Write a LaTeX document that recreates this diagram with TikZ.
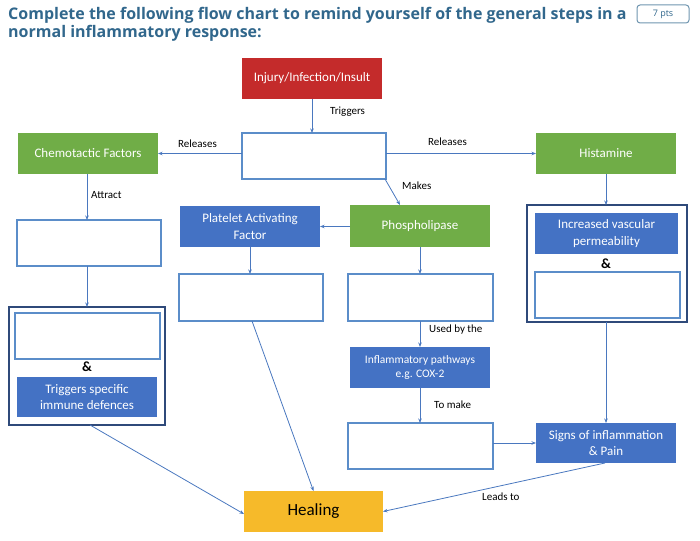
\documentclass[tikz,border=0pt]{standalone}
\usepackage{fontspec}
\setmainfont{Carlito}
\newfontfamily\titlefont{Open Sans}
\usetikzlibrary{arrows.meta}
\definecolor{cred}{HTML}{C42B2B}
\definecolor{cgreen}{HTML}{70AD47}
\definecolor{cblue}{HTML}{4472C4}
\definecolor{corange}{HTML}{F6BA2A}
\definecolor{cline}{HTML}{4A78BF}
\definecolor{cempty}{HTML}{5B8DC9}
\definecolor{cnavy}{HTML}{2F4A7A}
\definecolor{ctitle}{HTML}{31678C}
\begin{document}
\begin{tikzpicture}[x=1pt,y=-1pt,
  box/.style={inner sep=0pt,outer sep=0pt,align=center,font=\fontsize{13}{16.5}\selectfont},
  redbox/.style={box,fill=cred,text=white},
  greenbox/.style={box,fill=cgreen,text=white},
  bluebox/.style={box,fill=cblue,text=white},
  emptybox/.style={box,draw=cempty,line width=1.2pt,fill=white},
  groupbox/.style={box,draw=cnavy,line width=2.2pt},
  conn/.style={draw=cline,line width=0.8pt,-{Stealth[length=4.5pt,width=3.5pt]}},
  lbl/.style={anchor=west,inner sep=0pt,font=\fontsize{11}{12}\selectfont}]
\useasboundingbox (0,0) rectangle (700,540);
% title
\node[anchor=base west,inner sep=0pt,text=ctitle,font=\titlefont\bfseries\fontsize{16}{18}\selectfont] (t1) at (8,20) {Complete the following flow chart to remind yourself of the general steps in a};
\node[anchor=base west,inner sep=0pt,text=ctitle,font=\titlefont\bfseries\fontsize{16}{18}\selectfont] (t2) at (8,38) {normal inflammatory response:};
\node[draw=ctitle!70,rounded corners=3pt,line width=1pt,minimum width=52pt,minimum height=18pt,inner sep=0pt,text=ctitle,font=\titlefont\fontsize{9}{10}\selectfont] (pts) at (663,14) {7 pts};
% groups
\node[groupbox,minimum width=156pt,minimum height=118pt] (lgroup) at (87,366) {};
\node[groupbox,minimum width=160pt,minimum height=117pt] (rgroup) at (607,263.5) {};
% nodes
\node[redbox,minimum width=140pt,minimum height=41pt] (inj) at (312,78.5) {Injury/Infection/Insult};
\node[emptybox,minimum width=144pt,minimum height=46pt] (cb) at (314,156) {};
\node[greenbox,minimum width=140pt,minimum height=41pt] (chemo) at (88,153.5) {Chemotactic Factors};
\node[greenbox,minimum width=140pt,minimum height=41pt] (hist) at (606,153.5) {Histamine};
\node[bluebox,minimum width=140pt,minimum height=41pt] (paf) at (250,226.5) {Platelet Activating\\Factor};
\node[greenbox,minimum width=140pt,minimum height=42pt] (ph) at (420,226) {Phospholipase};
\node[emptybox,minimum width=144pt,minimum height=46pt] (left1) at (89,243) {};
\node[emptybox,minimum width=145pt,minimum height=46pt] (linner) at (87.5,336) {};
\node[box,font=\bfseries\fontsize{14}{15}\selectfont] (amp1) at (87,367) {\&};
\node[bluebox,minimum width=140pt,minimum height=40pt] (trig) at (87,397) {Triggers specific\\immune defences};
\node[emptybox,minimum width=144pt,minimum height=47pt] (pafbox) at (251,297.5) {};
\node[emptybox,minimum width=145pt,minimum height=47pt] (mid) at (420.5,297.5) {};
\node[bluebox,minimum width=140pt,minimum height=41pt,font=\fontsize{11.5}{14}\selectfont] (infl) at (420,367.5) {Inflammatory pathways\\e.g. COX-2};
\node[emptybox,minimum width=145pt,minimum height=46pt] (bot) at (420.5,446) {};
\node[bluebox,minimum width=140pt,minimum height=40pt] (signs) at (606,443) {Signs of inflammation\\\& Pain};
\node[bluebox,minimum width=143pt,minimum height=41pt] (ivp) at (606.5,233.5) {Increased vascular\\permeability};
\node[box,font=\bfseries\fontsize{14}{15}\selectfont] (amp2) at (606,264) {\&};
\node[emptybox,minimum width=145pt,minimum height=46pt] (rinner) at (607.5,295) {};
\node[box,fill=corange,minimum width=139pt,minimum height=41pt,font=\fontsize{17}{19}\selectfont] (heal) at (313.5,511.5) {Healing};
% connectors
\draw[conn] (inj.south) -- (inj.south |- cb.north);
\draw[conn] (cb.west |- chemo) -- (chemo.east);
\draw[conn] (cb.east |- hist) -- (hist.west);
\draw[conn] ([xshift=-1pt]cb.south east) -- ([xshift=50pt]ph.north west);
\draw[conn] (ph.west |- paf) -- (paf.east);
\draw[conn] (chemo.south -| 87,0) -- (87,0 |- left1.north);
\draw[conn] (left1.south -| 87,0) -- (87,0 |- lgroup.north);
\draw[conn] (paf.south) -- (paf.south |- pafbox.north);
\draw[conn] (ph.south) -- (ph.south |- mid.north);
\draw[conn] (ph.south |- mid.south) -- (infl.north);
\draw[conn] (infl.south) -- (infl.south |- bot.north);
\draw[conn] (bot.east |- signs) -- (signs.west);
\draw[conn] (hist.south) -- (hist.south |- rgroup.north);
\draw[conn] (hist.south |- rgroup.south) -- (signs.north);
\draw[conn] ([xshift=3pt]lgroup.south) -- ([yshift=-2.5pt]heal.west);
\draw[conn] ([xshift=1pt]pafbox.south) -- (heal.north);
\draw[conn] ([xshift=-1pt]signs.south) -- (heal.east);
% labels
\node[lbl] (lt) at (330,112) {Triggers};
\node[lbl] (lr1) at (178,144) {Releases};
\node[lbl] (lr2) at (428,142) {Releases};
\node[lbl] (lm) at (402,186) {Makes};
\node[lbl] (la) at (91,195) {Attract};
\node[lbl] (lu) at (429,330) {Used by the};
\node[lbl] (ltm) at (434,405) {To make};
\node[lbl] (ll) at (482,497) {Leads to};
\end{tikzpicture}
\end{document}
